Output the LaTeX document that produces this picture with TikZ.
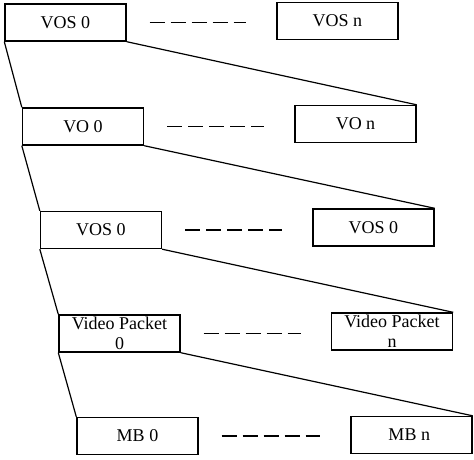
\documentclass[tikz,border=0pt]{standalone}
\usepackage{fontspec}
\setmainfont{Liberation Serif}
\usepackage{tikz}
\usetikzlibrary{calc}
\tikzset{
    every picture/.style={line width=0.5pt},
    layer/.style={draw,line width=1.4pt,minimum width=121pt,minimum height=37pt,inner sep=0pt,
        align=center,font=\fontsize{18}{20}\selectfont},
    link/.style={line width=1.2pt},
    gap/.style={line width=1.4pt,dash pattern=on 15pt off 6pt,shorten <=23pt,shorten >=30pt}
}

\begin{document}
\begin{tikzpicture}[x=1pt,y=-1pt]
        \useasboundingbox (0,0) rectangle (474,459);
        % Layers, first and last of each level
        \foreach \i/\xa/\xb/\ya/\yb/\first/\last in {
            1/65.5/337.5/22.5/21/{VOS 0}/{VOS n},
            2/83/355.5/126.5/124/{VO 0}/{VO n},
            3/101/373.5/230/227.5/{VOS 0}/{VOS 0},
            4/119.5/392/333.5/331.5/{Video Packet\\0}/{Video Packet\\n},
            5/137.5/411.5/436/435/{MB 0}/{MB n}
        } {
            \node[layer] (f\i) at (\xa,\ya) {\first};
            \node[layer] (n\i) at (\xb,\yb) {\last};
            \draw[gap] (f\i.east) -- (f\i.east -| n\i.west);
        }
        
        % Expansion of the first element
        \foreach \i [evaluate=\i as \j using int(\i+1)] in {1,...,4} {
            \draw[link] (f\i.south west) -- (f\j.north west);
            \draw[link] (f\i.south east) -- (n\j.north east);
        }
    \end{tikzpicture}
\end{document}
